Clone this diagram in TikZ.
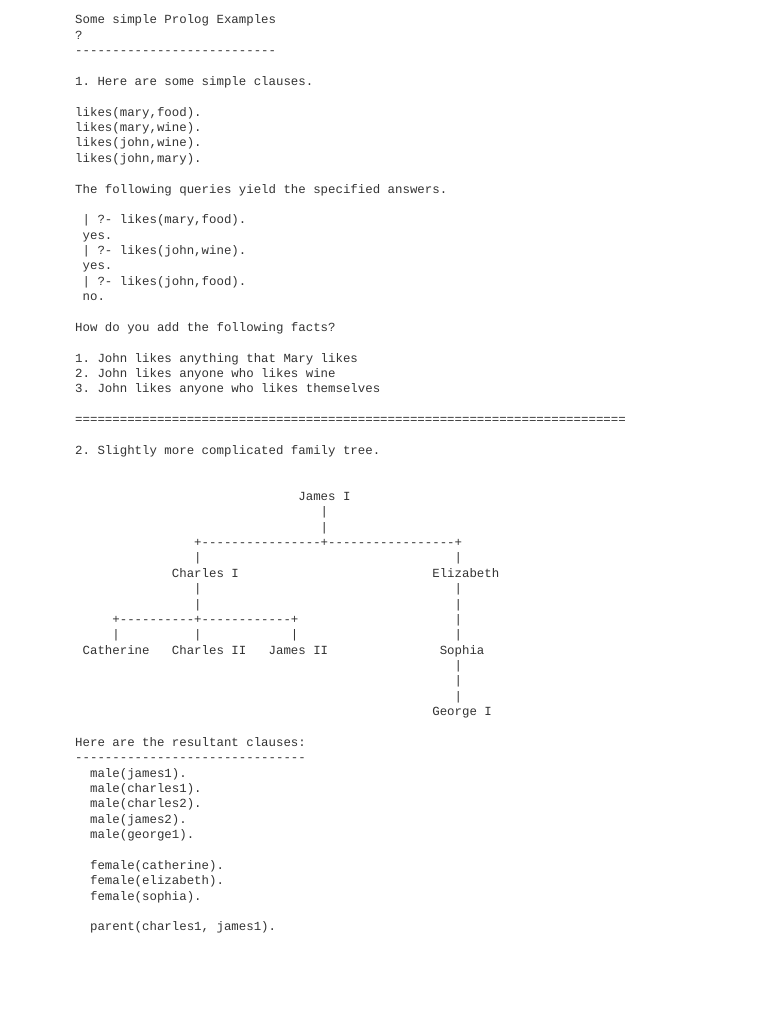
\documentclass[tikz,border=0pt]{standalone}
\usepackage{fontspec}
\setmonofont{Liberation Mono}
\newcommand\tl[3]{\node[anchor=base west,inner sep=0pt,text=black!80] at ({75pt+7.44pt*#1},{-20pt-15.37pt*#2-4pt}) {#3};}
\begin{document}
\begin{tikzpicture}[x=1pt,y=1pt,font=\ttfamily\fontsize{12.4}{15}\selectfont]
\useasboundingbox[fill=white] (0,0) rectangle (768,-1024);
\tl{0}{0}{Some simple Prolog Examples}
\tl{0}{1}{?}
\tl{0}{2}{---------------------------}
\tl{0}{4}{1. Here are some simple clauses.}
\tl{0}{6}{likes(mary,food).}
\tl{0}{7}{likes(mary,wine).}
\tl{0}{8}{likes(john,wine).}
\tl{0}{9}{likes(john,mary).}
\tl{0}{11}{The following queries yield the specified answers.}
\tl{1}{13}{| ?- likes(mary,food).}
\tl{1}{14}{yes.}
\tl{1}{15}{| ?- likes(john,wine).}
\tl{1}{16}{yes.}
\tl{1}{17}{| ?- likes(john,food).}
\tl{1}{18}{no.}
\tl{0}{20}{How do you add the following facts?}
\tl{0}{22}{1. John likes anything that Mary likes}
\tl{0}{23}{2. John likes anyone who likes wine}
\tl{0}{24}{3. John likes anyone who likes themselves}
\tl{0}{26}{==========================================================================}
\tl{0}{28}{2. Slightly more complicated family tree.}
\tl{30}{31}{James I}
\tl{33}{32}{|}
\tl{33}{33}{|}
\tl{16}{34}{+----------------+-----------------+}
\tl{16}{35}{|} \tl{51}{35}{|}
\tl{13}{36}{Charles I} \tl{48}{36}{Elizabeth}
\tl{16}{37}{|} \tl{51}{37}{|}
\tl{16}{38}{|} \tl{51}{38}{|}
\tl{5}{39}{+----------+------------+} \tl{51}{39}{|}
\tl{5}{40}{|} \tl{16}{40}{|} \tl{29}{40}{|} \tl{51}{40}{|}
\tl{1}{41}{Catherine} \tl{13}{41}{Charles II} \tl{26}{41}{James II} \tl{49}{41}{Sophia}
\tl{51}{42}{|}
\tl{51}{43}{|}
\tl{51}{44}{|}
\tl{48}{45}{George I}
\tl{0}{47}{Here are the resultant clauses:}
\tl{0}{48}{-------------------------------}
\tl{2}{49}{male(james1).}
\tl{2}{50}{male(charles1).}
\tl{2}{51}{male(charles2).}
\tl{2}{52}{male(james2).}
\tl{2}{53}{male(george1).}
\tl{2}{55}{female(catherine).}
\tl{2}{56}{female(elizabeth).}
\tl{2}{57}{female(sophia).}
\tl{2}{59}{parent(charles1, james1).}
\end{tikzpicture}
\end{document}
